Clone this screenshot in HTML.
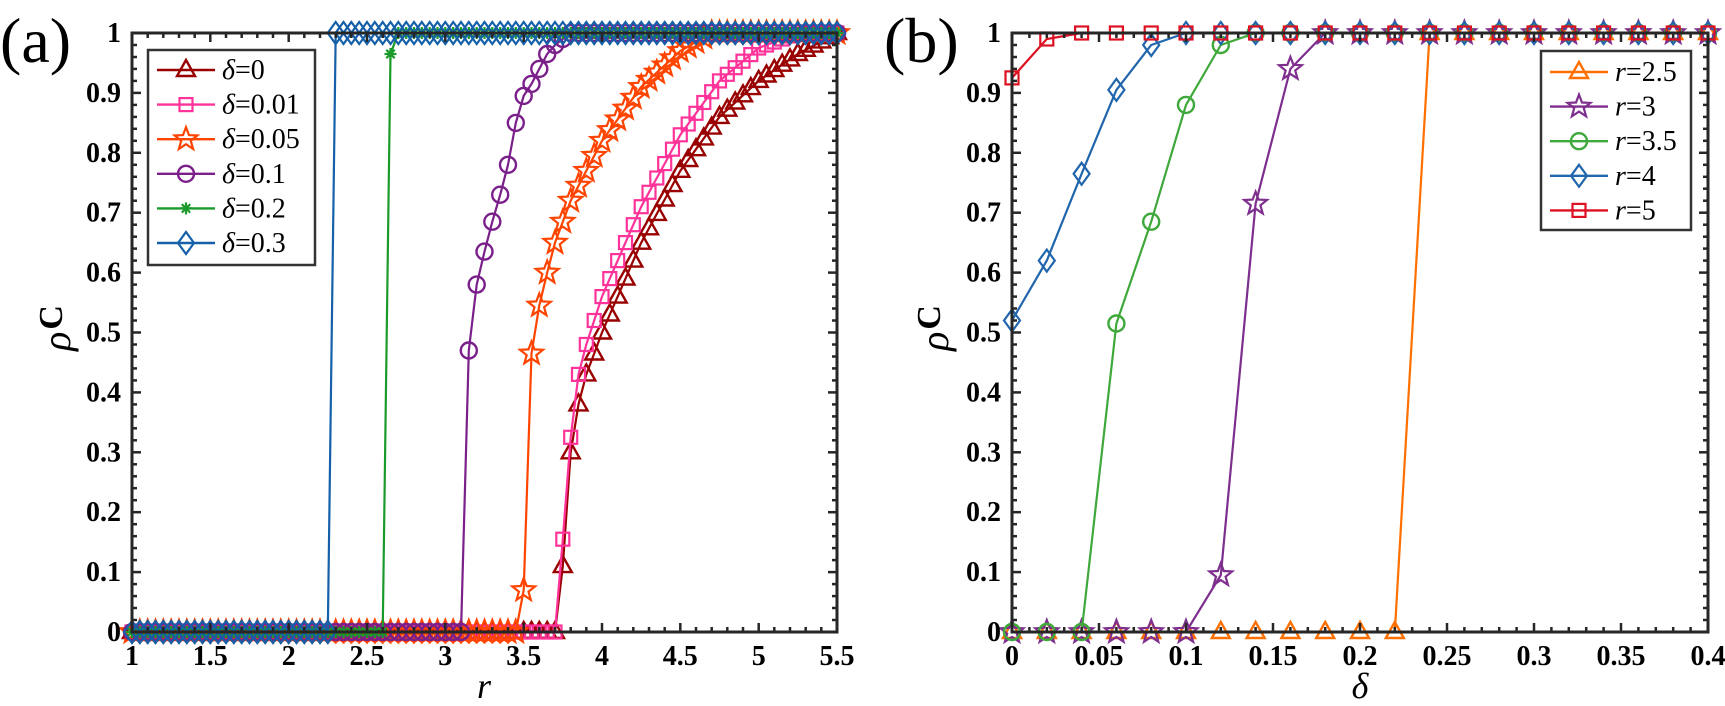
<!DOCTYPE html>
<html><head><meta charset="utf-8"><style>
html,body{margin:0;padding:0;background:#fff}
svg{display:block}
svg text,svg tspan{font-family:"Liberation Serif","DejaVu Serif",serif}
</style></head><body><div id="root"></div>
<script>
var H='';
var FF=' font-family="Liberation Serif, DejaVu Serif, serif"';
function f1(v){return Math.round(v*10)/10;}
function interp(a,x){if(x<=a[0][0])return a[0][1];for(var i=1;i<a.length;i++){if(x<=a[i][0]+1e-9){var x0=a[i-1][0],y0=a[i-1][1],x1=a[i][0],y1=a[i][1];return y0+(y1-y0)*(x-x0)/(x1-x0);}}return a[a.length-1][1];}
function star(cx,cy,R,c){var p=[];for(var i=0;i<10;i++){var r=i%2?R*0.42:R;var a=-Math.PI/2+i*Math.PI/5;p.push(f1(cx+r*Math.cos(a))+','+f1(cy+r*Math.sin(a)));}return '<polygon points="'+p.join(' ')+'" fill="none" stroke="'+c+'" stroke-width="2.2"/>';}
function marker(t,x,y,c){
 x=Number(x);y=Number(y);
 if(t=='tri')return '<polygon points="'+x+','+(y-10)+' '+(x-9)+','+(y+6)+' '+(x+9)+','+(y+6)+'" fill="none" stroke="'+c+'" stroke-width="2.4"/>';
 if(t=='sq')return '<rect x="'+(x-6.5)+'" y="'+(y-6.5)+'" width="13" height="13" fill="none" stroke="'+c+'" stroke-width="2.2"/>';
 if(t=='star')return star(x,y,12,c);
 if(t=='circ')return '<circle cx="'+x+'" cy="'+y+'" r="8" fill="none" stroke="'+c+'" stroke-width="2.4"/>';
 if(t=='dia')return '<polygon points="'+x+','+(y-11)+' '+(x+8)+','+y+' '+x+','+(y+11)+' '+(x-8)+','+y+'" fill="none" stroke="'+c+'" stroke-width="2.2"/>';
 if(t=='ast'){var s='';for(var i=0;i<4;i++){var a=i*Math.PI/4;s+='<line x1="'+f1(x-6*Math.cos(a))+'" y1="'+f1(y-6*Math.sin(a))+'" x2="'+f1(x+6*Math.cos(a))+'" y2="'+f1(y+6*Math.sin(a))+'" stroke="'+c+'" stroke-width="2.2"/>';}return s;}
 return '';
}
function axes(x0,x1,y0,y1,xmin,xmax,xt,xlab,xminor,yLabX){
 var X=function(v){return x0+(v-xmin)/(xmax-xmin)*(x1-x0);}, Y=function(v){return y0-v*(y0-y1);};
 var s='<rect x="'+x0+'" y="'+y1+'" width="'+(x1-x0)+'" height="'+(y0-y1)+'" fill="none" stroke="#262626" stroke-width="3"/>';
 var n=Math.round((xmax-xmin)/xminor);
 for(var k=0;k<=n;k++){var v=xmin+k*xminor;var px=f1(X(v));var maj=xt.some(function(t){return Math.abs(t-v)<1e-6;});var L=maj?9:5;
  s+='<line x1="'+px+'" y1="'+y0+'" x2="'+px+'" y2="'+(y0-L)+'" stroke="#262626" stroke-width="2.5"/><line x1="'+px+'" y1="'+y1+'" x2="'+px+'" y2="'+(y1+L)+'" stroke="#262626" stroke-width="2.5"/>';}
 for(var i=0;i<xt.length;i++){s+='<text'+FF+' x="'+f1(X(xt[i]))+'" y="'+(y0+33)+'" font-size="28" font-weight="bold" text-anchor="middle">'+xlab[i]+'</text>';}
 for(var k=0;k<=50;k++){var py=f1(Y(k*0.02));var maj=k%5==0;var L=maj?9:5;
  s+='<line x1="'+x0+'" y1="'+py+'" x2="'+(x0+L)+'" y2="'+py+'" stroke="#262626" stroke-width="2.5"/><line x1="'+x1+'" y1="'+py+'" x2="'+(x1-L)+'" y2="'+py+'" stroke="#262626" stroke-width="2.5"/>';
  if(maj){var lab=k==0?'0':(k==50?'1':'0.'+(k/5));s+='<text'+FF+' x="'+yLabX+'" y="'+(py+9)+'" font-size="28" font-weight="bold" text-anchor="end">'+lab+'</text>';}}
 return {s:s,X:X,Y:Y};
}
function series(ser,xs,AX){var out='';for(var j=0;j<ser.length;j++){var c=ser[j][0],m=ser[j][1],an=ser[j][2];var pts=[];
 for(var i=0;i<xs.length;i++)pts.push([f1(AX.X(xs[i])),f1(AX.Y(interp(an,xs[i])))]);
 out+='<polyline points="'+pts.map(function(p){return p[0]+','+p[1];}).join(' ')+'" fill="none" stroke="'+c+'" stroke-width="2.2"/>';
 for(var i=0;i<pts.length;i++)out+=marker(m,pts[i][0],pts[i][1],c);}return out;}
var A=axes(132,837,632,33,1,5.5,[1,1.5,2,2.5,3,3.5,4,4.5,5,5.5],['1','1.5','2','2.5','3','3.5','4','4.5','5','5.5'],0.1,121);
var rs=[];for(var i=0;i<=90;i++)rs.push(1+i*0.05);
var serA=[
 ['#990000','tri',[[3.7,0],[3.75,0.11],[3.8,0.30],[3.85,0.38],[3.9,0.43],[4.0,0.50],[4.25,0.65],[4.5,0.77],[4.75,0.86],[5.0,0.92],[5.25,0.965],[5.5,1]]],
 ['#ff3399','sq',[[3.7,0],[3.75,0.155],[3.8,0.325],[3.85,0.43],[3.9,0.48],[4.0,0.56],[4.25,0.71],[4.5,0.83],[4.75,0.92],[5.0,0.975],[5.2,0.995],[5.3,1]]],
 ['#ff4400','star',[[3.45,0],[3.5,0.07],[3.55,0.465],[3.6,0.545],[3.65,0.6],[3.7,0.65],[3.8,0.72],[4.0,0.82],[4.25,0.91],[4.5,0.97],[4.7,1]]],
 ['#7b1f8a','circ',[[3.1,0],[3.15,0.47],[3.2,0.58],[3.25,0.635],[3.3,0.685],[3.35,0.73],[3.4,0.78],[3.45,0.85],[3.5,0.895],[3.55,0.915],[3.6,0.94],[3.65,0.965],[3.7,0.98],[3.75,0.99],[3.8,1]]],
 ['#1a9a2a','ast',[[2.6,0],[2.65,0.965],[2.7,1]]],
 ['#1560a8','dia',[[2.25,0],[2.3,1]]]];
H+=series(serA,rs,A)+A.s;
H+='<rect x="148" y="50" width="167" height="215" fill="#fff" stroke="#333" stroke-width="2.5"/>';
var la=['0','0.01','0.05','0.1','0.2','0.3'];
for(var i=0;i<serA.length;i++){var y=f1(70+i*34.6),c=serA[i][0];H+='<line x1="157" y1="'+y+'" x2="215" y2="'+y+'" stroke="'+c+'" stroke-width="2.4"/>'+marker(serA[i][1],186,y,c)+'<text'+FF+' x="222" y="'+(y+9)+'" font-size="28"><tspan font-style="italic">δ</tspan>='+la[i]+'</text>';}
var B=axes(1012,1708,632,33,0,0.4,[0,0.05,0.1,0.15,0.2,0.25,0.3,0.35,0.4],['0','0.05','0.1','0.15','0.2','0.25','0.3','0.35','0.4'],0.01,1001);
var ds=[];for(var i=0;i<=20;i++)ds.push(i*0.02);
var serB=[
 ['#ff7000','tri',[[0.22,0],[0.24,1]]],
 ['#7e2f8e','star',[[0.1,0],[0.12,0.095],[0.14,0.715],[0.16,0.94],[0.18,1]]],
 ['#3ea83a','circ',[[0.04,0],[0.06,0.515],[0.08,0.685],[0.1,0.88],[0.12,0.98],[0.14,1]]],
 ['#2166ac','dia',[[0,0.52],[0.02,0.62],[0.04,0.765],[0.06,0.905],[0.08,0.98],[0.1,1]]],
 ['#dd1122','sq',[[0,0.925],[0.02,0.99],[0.04,1]]]];
H+=series(serB,ds,B)+B.s;
H+='<rect x="1541" y="51" width="150" height="179" fill="#fff" stroke="#333" stroke-width="2.5"/>';
var lb=['2.5','3','3.5','4','5'];
for(var i=0;i<serB.length;i++){var y=f1(72+i*34.6),c=serB[i][0];H+='<line x1="1550" y1="'+y+'" x2="1608" y2="'+y+'" stroke="'+c+'" stroke-width="2.4"/>'+marker(serB[i][1],1579,y,c)+'<text'+FF+' x="1615" y="'+(y+9)+'" font-size="28"><tspan font-style="italic">r</tspan>='+lb[i]+'</text>';}
H+='<text'+FF+' x="0" y="62" font-size="64">(a)</text><text'+FF+' x="884" y="62" font-size="64">(b)</text>';
H+='<text'+FF+' x="484" y="698" font-size="36" font-style="italic" text-anchor="middle">r</text>';
H+='<text'+FF+' x="1360" y="698" font-size="36" font-style="italic" text-anchor="middle">δ</text>';
function ylab(x,y){return '<text'+FF+' transform="translate('+x+','+y+') rotate(-90)" font-size="40" text-anchor="middle"><tspan font-style="italic">ρ</tspan><tspan font-weight="bold" font-size="34" dy="-8" dx="2">C</tspan></text>';}
H+=ylab(70,328)+ylab(948,328);
document.getElementById('root').innerHTML='<svg width="1725" height="706" xmlns="http://www.w3.org/2000/svg" font-family="Liberation Serif, serif">'+H+'</svg>';
</script>
</body></html>
